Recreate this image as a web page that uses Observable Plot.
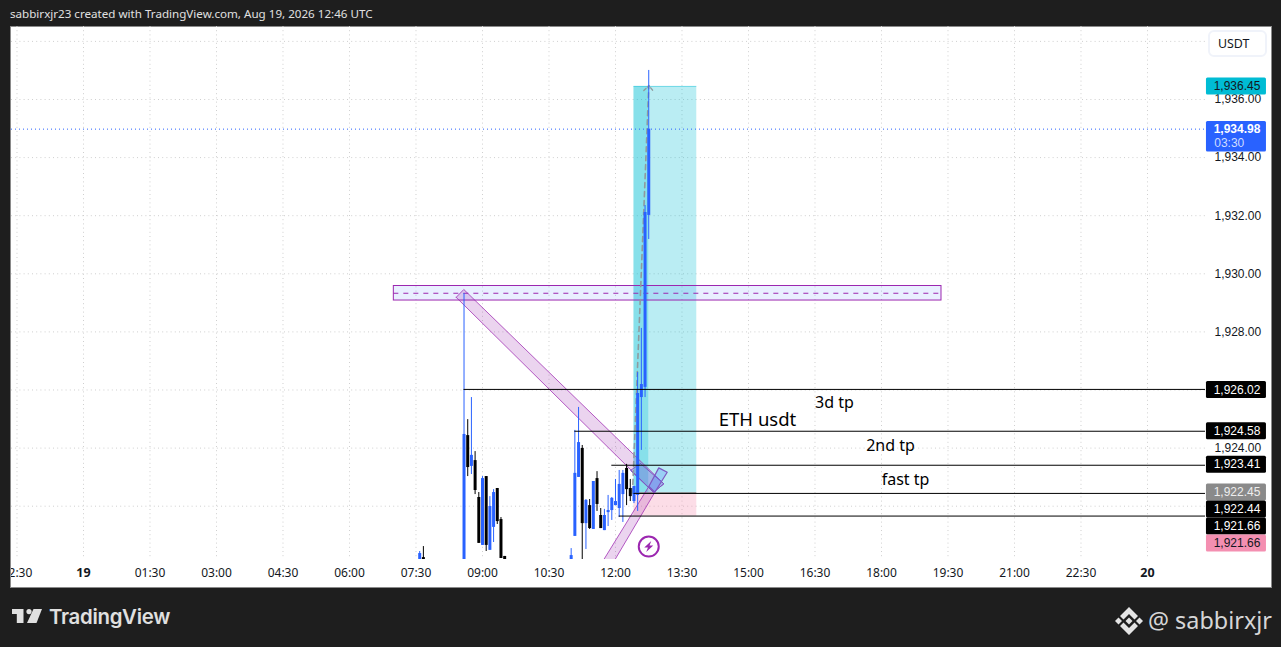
<!DOCTYPE html>
<html>
<head>
<meta charset="utf-8">
<script src="https://cdn.jsdelivr.net/npm/d3@7"></script>
<script src="https://cdn.jsdelivr.net/npm/@observablehq/plot@0.6"></script>
<style>
html,body{margin:0;padding:0;width:1281px;height:647px;overflow:hidden;background:#1e1e1e;font-family:"Liberation Sans",sans-serif}
#panel{position:absolute;left:10px;top:26px;width:1260px;height:560px;background:#fff;border:1px solid #8a8a8a;box-sizing:content-box}
#chart{position:absolute;left:0;top:0}
#chart svg{display:block;clip-path:inset(0 0 0 11px);background:none}
#head{position:absolute;left:10px;top:6px;color:#e0e0e0;font:11.62px/16px "Noto Sans",sans-serif;white-space:nowrap}
#unit{position:absolute;left:1208px;top:30px;width:47px;height:23px;padding-left:8px;border:2px solid #f0f3fa;border-radius:6px;color:#131722;font:12.4px/23px "Noto Sans",sans-serif;text-align:left}
#brand{position:absolute;left:49px;top:603px;color:#e0e0e0;font:600 20.4px/28px Inter,sans-serif;letter-spacing:-.3px}
#user{position:absolute;left:1148px;top:604px;color:#d6d6d6;font:23.4px/33px "Noto Sans",sans-serif;white-space:nowrap}
.logo{position:absolute}
</style>
</head>
<body>
<div id="head">sabbirxjr23 created with TradingView.com, Aug 19, 2026 12:46 UTC</div>
<div id="panel"></div>
<div id="chart"></div>
<div id="unit">USDT</div>
<svg class="logo" style="left:12px;top:609px" width="30" height="15" viewBox="0 0 30 15" fill="#e0e0e0">
<path d="M0 0H11.5V14H4.8V5H0Z"/><circle cx="17" cy="2.6" r="2.6"/><path d="M21.5 0H30L24.5 14H15Z"/>
</svg>
<div id="brand">TradingView</div>
<svg class="logo" style="left:1115px;top:607px" width="28" height="28" viewBox="0 0 28 28" fill="#e4e4e4">
<path d="M14 0L23 9L19.5 12.5L14 7L8.5 12.5L5 9Z"/><path d="M14 28L23 19L19.5 15.5L14 21L8.5 15.5L5 19Z"/>
<path d="M0 14L3.5 10.5L7 14L3.5 17.5Z"/><path d="M28 14L24.5 10.5L21 14L24.5 17.5Z"/><path d="M14 10.5L17.5 14L14 17.5L10.5 14Z"/>
</svg>
<div id="user">@ sabbirxjr</div>
<script>
// Candles: minutes since 00:00 Aug 19, then prices
const times  = [455,460,515,520,525,530,535,540,545,550,555,560,565,570,660,665,670,675,680,685,690,695,700,705,710,715,720,725,730,735,740,745,750,755,760,765];
const opens  = [1920.1,1920.23,1920.1,1924.43,1923.37,1923.57,1922.30,1920.65,1923.02,1920.48,1921.27,1922.61,1921.54,1920.27,1920.1,1920.96,1922.99,1923.99,1921.40,1922.02,1921.20,1922.95,1921.68,1921.16,1921.78,1921.85,1922.02,1921.92,1922.40,1923.30,1922.61,1922.16,1922.37,1925.74,1926.09,1932.01];
const highs  = [1920.44,1920.61,1929.32,1924.98,1925.74,1923.88,1922.47,1923.02,1923.02,1922.33,1922.57,1922.61,1921.61,1920.27,1920.54,1924.61,1925.40,1924.09,1922.23,1922.23,1922.85,1923.19,1921.92,1921.89,1922.37,1922.30,1922.92,1923.23,1923.23,1923.44,1922.92,1922.68,1926.60,1928.12,1932.35,1937.00];
const lows   = [1920.1,1920.1,1920.1,1923.02,1923.09,1922.40,1920.72,1920.65,1920.44,1920.48,1920.75,1921.37,1920.20,1920.1,1920.1,1920.96,1922.99,1920.1,1920.51,1921.20,1921.20,1921.82,1921.23,1921.16,1921.30,1921.51,1922.02,1921.61,1921.44,1922.02,1922.16,1922.09,1921.82,1923.92,1925.74,1931.18];
const closes = [1920.37,1920.1,1924.47,1923.33,1923.75,1922.54,1920.72,1922.95,1920.65,1921.99,1922.47,1921.47,1920.20,1920.1,1920.30,1923.13,1924.19,1921.40,1922.20,1921.23,1922.85,1922.06,1921.23,1921.68,1921.85,1922.27,1922.16,1922.75,1923.13,1922.57,1922.33,1922.68,1925.88,1926.19,1932.11,1934.98];

// Axes
const xTickValues = [-90,0,90,180,270,360,450,540,630,720,810,900,990,1080,1170,1260,1350,1440];
const xTickLabels = ["22:30","19","01:30","03:00","04:30","06:00","07:30","09:00","10:30","12:00","13:30","15:00","16:30","18:00","19:30","21:00","22:30","20"];
const dayTicks = [0,1440];
const yLabelTicks = [1936,1934,1932,1930,1928,1924];
const yGridTicks = [1922,1924,1926,1928,1930,1932,1934,1936,1938];

// Long position tool
const entryPrice = 1922.45, targetPrice = 1936.45, stopPrice = 1921.66;
const posStart = 745, posNow = 765, posEnd = 830;

// Price levels
const levelPrices = [1926.02,1924.58,1923.41,1922.44,1921.66];
const levelStarts = [515,665,715,745,725];

// Resistance box
const boxStart = 420, boxEnd = 1161.2, boxLow = 1929.08, boxHigh = 1929.58, boxMid = 1929.33;

// Drawn bands
const bandOneT = [504.4,514.7,785.4,771.4], bandOneP = [1929.19,1929.46,1922.77,1922.48];
const bandTwoT = [690.8,765.1,773.2,706.5], bandTwoP = [1919.61,1922.68,1922.48,1919.61];
const capT = [778.6,790,773.2,765.1], capP = [1923.32,1923.17,1922.48,1922.68];
const overlapT = [753.8,785.4,771.4,740.3], overlapP = [1923.47,1922.77,1922.48,1923.23];

// Projection arrow
const arrowT = [743,765], arrowP = [1922.44,1936.45];
const headT = [758.3,765.3,771.4], headP = [1936.31,1936.48,1936.28];

// Annotations
const noteTexts = ["3d tp","ETH usdt","2nd tp","fast tp"];
const noteT = [1016.4,912.2,1092.2,1112.5], noteP = [1925.54,1924.95,1924.07,1922.92];
const noteSizes = [16,18.5,16,16];

// Price tags
const tagTexts = ["1,936.45","1,926.02","1,924.58","1,923.41","1,922.45","1,922.44","1,921.66","1,921.66"];
const tagSpots = [1936.45,1926.0,1924.58,1923.43,1922.47,1921.89,1921.30,1920.72];
const tagFills = ["#00bcd4","#000000","#000000","#000000","#8a8a8a","#000000","#000000","#f48fb1"];
const tagInks  = ["#131722","#ffffff","#ffffff","#ffffff","#eeeeee","#ffffff","#ffffff","#131722"];
const tagLeft = 1519.8, tagRight = 1601, tagInk = 1592.8, tagHalf = 0.2926;
const lastPrice = 1934.98, lastTop = 1935.24, lastBottom = 1934.19, countdown = "03:30", countdownSpot = 1934.49;

const candles = times.map((t,i)=>({t,o:opens[i],h:highs[i],l:lows[i],c:closes[i]}));
const up = candles.filter(d=>d.c>=d.o), down = candles.filter(d=>d.c<d.o);
const pts = (T,P)=>[...T,T[0]].map((t,i)=>({t,p:[...P,P[0]][i]}));
const open = (T,P)=>T.map((t,i)=>({t,p:P[i]}));
const tags = tagTexts.map((text,i)=>({text,y:tagSpots[i],fill:tagFills[i],ink:tagInks[i]}));
const notes = noteTexts.map((text,i)=>({text,t:noteT[i],p:noteP[i],s:noteSizes[i]}));
const levels = levelPrices.map((p,i)=>({p,t:levelStarts[i]}));
const bolt = {draw(c){c.moveTo(2.5,-5.5);c.lineTo(-4.5,1);c.lineTo(-0.8,1);c.lineTo(-2.5,5.5);c.lineTo(4.5,-1);c.lineTo(0.8,-1);c.closePath();}};
const purple = "#9c27b0", violet = "#7e57c2", blue = "#2962ff";
const paneFont = {fontFamily:"'Noto Sans',sans-serif"};
const xMax = 1518.5;

const chart = Plot.plot({
  width:1281, height:647,
  marginLeft:11, marginRight:76, marginTop:26, marginBottom:88,
  style:{background:"none",fontFamily:"'Liberation Sans',sans-serif",fontSize:"12px",color:"#131722",overflow:"visible"},
  x:{type:"linear",domain:[-97.44,xMax]},
  y:{type:"linear",domain:[1920.165,1938.513]},
  marks:[
    Plot.ruleY(yGridTicks,{y:d=>d,stroke:"#cfcfcf",strokeDasharray:"1 3.2"}),
    Plot.ruleX(xTickValues,{x:d=>d,stroke:"#cfcfcf",strokeDasharray:"1 3.2",clip:true}),
    // Long position
    Plot.rect([0],{x1:posStart,x2:posEnd,y1:entryPrice,y2:targetPrice,fill:"#00bcd4",fillOpacity:.27}),
    Plot.rect([0],{x1:posStart,x2:posNow,y1:entryPrice,y2:targetPrice,fill:"#00bcd4",fillOpacity:.27}),
    Plot.rect([0],{x1:posStart,x2:posEnd,y1:stopPrice,y2:entryPrice,fill:"#f48fb1",fillOpacity:.3}),
    Plot.ruleY([targetPrice],{x1:posStart,x2:posEnd,stroke:"#00bcd4",strokeOpacity:.4}),
    Plot.ruleY([entryPrice],{x1:posStart,x2:posEnd,stroke:"#888888",strokeWidth:1.5}),
    // Box
    Plot.rect([0],{x1:boxStart,x2:boxEnd,y1:boxLow,y2:boxHigh,fill:blue,fillOpacity:.1,stroke:purple,strokeWidth:1}),
    Plot.ruleY([boxMid],{x1:boxStart,x2:boxEnd,stroke:purple,strokeDasharray:"5 5",strokeWidth:1}),
    // Bands
    Plot.line(pts(bandOneT,bandOneP),{x:"t",y:"p",fill:purple,fillOpacity:.2,stroke:purple,strokeOpacity:.75,strokeWidth:1,curve:"linear",clip:true}),
    Plot.line(pts(bandTwoT,bandTwoP),{x:"t",y:"p",fill:purple,fillOpacity:.2,stroke:purple,strokeOpacity:.75,strokeWidth:1,curve:"linear",clip:true}),
    Plot.line(pts(overlapT,overlapP),{x:"t",y:"p",fill:blue,fillOpacity:.14,stroke:violet,strokeWidth:1,curve:"linear"}),
    Plot.line(pts(capT,capP),{x:"t",y:"p",fill:blue,fillOpacity:.22,stroke:violet,strokeWidth:1.2,curve:"linear"}),
    // Arrow
    Plot.line(open(arrowT,arrowP),{x:"t",y:"p",stroke:"#8f9a9e",strokeWidth:1.6,strokeDasharray:"5 4"}),
    Plot.line(open(headT,headP),{x:"t",y:"p",stroke:"#8f9a9e",strokeWidth:1.4,strokeDasharray:"3 2"}),
    // Candles
    Plot.ruleX(up,{x:"t",y1:"l",y2:"h",stroke:blue,strokeWidth:1,clip:true}),
    Plot.ruleX(down,{x:"t",y1:"l",y2:"h",stroke:"#000",strokeWidth:1,clip:true}),
    Plot.ruleX(up,{x:"t",y1:"o",y2:"c",stroke:blue,strokeWidth:3,clip:true}),
    Plot.ruleX(down,{x:"t",y1:"o",y2:"c",stroke:"#000",strokeWidth:3,clip:true}),
    // Levels
    Plot.ruleY(levels,{y:"p",x1:"t",x2:()=>xMax,stroke:"#000",strokeWidth:1}),
    Plot.ruleY([lastPrice],{stroke:blue,strokeDasharray:"1 3",strokeWidth:1}),
    // Lightning marker
    Plot.dot([0],{x:posNow,y:1920.61,r:10,fill:"#fff",stroke:purple,strokeWidth:2}),
    Plot.dot([0],{x:posNow,y:1920.61,symbol:bolt,fill:purple,stroke:"none"}),
    // Notes
    Plot.text(notes,{x:"t",y:"p",text:"text",fontSize:"s",fill:"#000",...paneFont}),
    // Axes
    Plot.axisX(xTickValues.filter(d=>!dayTicks.includes(d)),{x:d=>d,anchor:"bottom",tickSize:0,tickPadding:9,label:null,fontSize:12,tickFormat:d=>xTickLabels[xTickValues.indexOf(d)],fill:"#131722",...paneFont}),
    Plot.axisX(dayTicks,{x:d=>d,anchor:"bottom",tickSize:0,tickPadding:9,label:null,fontSize:12.5,fontWeight:"bold",tickFormat:d=>xTickLabels[xTickValues.indexOf(d)],fill:"#131722",...paneFont}),
    Plot.axisY(yLabelTicks,{y:d=>d,anchor:"right",tickSize:0,tickPadding:9,label:null,tickFormat:d3.format(",.2f"),fill:"#131722",fontSize:12}),
    // Tags
    Plot.rect(tags,{x1:()=>tagLeft,x2:()=>tagRight,y1:d=>d.y-tagHalf,y2:d=>d.y+tagHalf,fill:d=>d.fill,rx:1.5}),
    Plot.text(tags,{x:()=>tagInk,y:"y",text:"text",fill:d=>d.ink,textAnchor:"end",fontSize:12,fontWeight:d=>d.fill==="#000000"||d.fill==="#8a8a8a"?"bold":"normal"}),
    Plot.rect([0],{x1:tagLeft,x2:tagRight,y1:lastBottom,y2:lastTop,fill:blue,rx:1.5}),
    Plot.text([lastPrice],{x:()=>tagInk,y:d=>d,text:d=>d3.format(",.2f")(d),fill:"#fff",fontWeight:"bold",textAnchor:"end",fontSize:12}),
    Plot.text([countdown],{x:()=>tagLeft+10.5,y:()=>countdownSpot,text:d=>d,fill:"#cfdcff",textAnchor:"start",fontSize:12})
  ]
});
document.getElementById("chart").appendChild(chart);
</script>
</body>
</html>
